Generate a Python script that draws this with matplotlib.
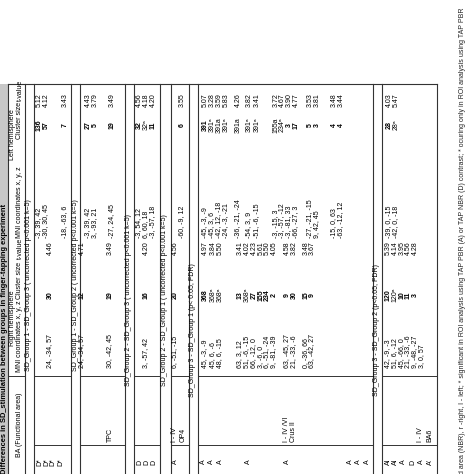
import matplotlib
matplotlib.use("Agg")
import matplotlib.pyplot as plt

plt.rcParams['font.family'] = ['Liberation Sans', 'DejaVu Sans']

# ---------------- data ----------------
title = "Differences in SD_stimulation between groups in finger-tapping experiment"
footnote = ("d area (NBR), r -right, l - left; * significant in ROI analysis using TAP PBR (A) or "
            "TAP NBR (D) contrast; * ocuring only in ROI analysis using TAP PBR")
section_titles = [
    "SD_Group 1 - SD_Group 3 ( uncorrected p<0.001 k=5)",
    "SD_Group 1 - SD_Group 2 ( uncorrected p<0.001 k=5)",
    "SD_Group 2 - SD_Group 3 ( uncorrected p<0.001 k=5)",
    "SD_Group 2 - SD_Group 1 ( uncorrected p<0.001 k=5)",
    "SD_Group 3 - SD_Group 1 (p< 0.05, FDR)",
    "SD_Group 3 - SD_Group 2 (p<0.05, FDR)",
]
ba_signs = ["D*", "D*", "D*", "D*",
            "D", "D", "D",
            "A",
            "A", "A", "A", "A", "A", "A", "A", "A",
            "AI", "AI", "A", "D", "A", "A'"]
func_areas = ["TPC", "I - IV", "OP4", "I - IV /VI", "Crus II", "I - IV", "BA6"]
right_mni = ["24, -34, 57", "24, -34, 57", "30, -42, 45", "3, -57, 42", "6, -51, -15",
             "45, -3, -9", "45, 6, -6", "48, 6, -15", "63, 3, 12", "51, -6, -15", "66, -12, 0",
             "3, -6, 0", "6, -51, -24", "9, -81, -39", "63, -45, 27", "21, -33, -6",
             "0, -36, 66", "63, -42, 27",
             "42, -9, -3", "51, 6, -12", "45, -66, 0", "21, -33, -6", "9, -48, -27", "3, 0, 57"]
right_cluster = ["30", "12", "19", "16", "20",
                 "368", "368ᵃ", "368ᵃ", "13", "368ᵃ", "27", "155", "234", "2", "9", "30", "15", "9",
                 "120", "120ᵃ", "10", "11", "3", ""]
right_t = ["4.46", "4.71", "3.49", "4.20", "4.56",
           "4.97", "3.84", "5.50", "3.41", "4.02", "4.23", "5.61", "5.50", "4.05", "4.58", "3.82",
           "3.48", "3.67",
           "5.39", "4.14", "3.95", "4.56", "4.28", ""]
left_mni = ["-3, 39, 42", "-30, 30, 45", "-18, -63, 6",
            "-3, 39, 42", "3, -93, 21", "-27, 24, 45",
            "-3, 54, 12", "6, 60, 18", "-3, -57, 18",
            "-60, -9, 12",
            "-45, -3, -9", "-45, 3, 6", "-42, 12, -18", "-24, -3, -21", "-36, -21, -24",
            "-54, 3, 9", "-51, -6, -15", "-3, -15, 3", "-3, -57, -12", "-3, -81, 33", "-66, -27, 3",
            "-27, -21, -15", "9, 42, 45", "-15, 0, 63", "-63, -12, 12",
            "-39, 0, -15", "-42, 0, -18"]
left_cluster = ["136", "57", "7", "27", "5", "19", "32", "32ᵃ", "11", "6",
                "391", "391ᵃ", "391a", "391ᵃ", "391a", "391ᵃ", "391ᵃ", "155a", "234ᵃ", "3", "17",
                "5", "3", "4", "4", "28", "28ᵃ"]
left_t = ["5.12", "4.12", "3.43", "4.43", "3.79", "3.49", "4.56", "4.18", "4.20", "3.55",
          "5.07", "3.28", "3.59", "5.83", "4.26", "3.82", "3.41", "3.72", "4.67", "3.90", "4.77",
          "3.53", "3.81", "3.48", "3.44", "4.03", "5.47"]
bold_clusters = {"136", "57", "7", "27", "5", "19", "32", "11", "6", "391", "3", "17", "4", "28",
                 "30", "12", "16", "20", "368", "13", "155", "234", "2", "9", "15", "120", "10"}

# ---------------- layout (pixel positions) ----------------
ba_x = [40, 47, 53, 61, 140, 147, 154, 175, 203, 211, 220, 248, 287, 350, 358, 367,
        388, 395, 403, 413, 421, 430]
fa_x = [110, 175, 183, 287, 294, 421, 430]
rmni_x = [50, 82, 110, 146, 175, 205, 213, 220, 240, 247, 254, 261, 267, 274, 287, 294,
          306, 312, 388, 395, 402, 408, 415, 422]
lmni_x = [39, 46, 65, 88, 95, 112, 139, 146, 153, 182, 205, 212, 219, 226, 238, 249, 257,
          276, 282, 289, 296, 310, 317, 334, 341, 389, 396]
head_x = [29, 76, 129, 165, 193, 377]
head_y = [285, 285, 300, 300, 330, 330]
vlines = [8, 25, 34, 71, 80, 125, 134, 160, 171, 189, 198, 373, 382, 437]

fs = 5.0
fig = plt.figure(figsize=(4.74, 4.74), dpi=100)
ax = fig.add_axes([0, 0, 1, 1])
ax.set_xlim(0, 474)
ax.set_ylim(474, 0)
ax.axis('off')

def t(x, y, s, va='bottom', **kw):
    ax.text(x, y, s, rotation=90, ha='center', va=va, fontsize=kw.pop('size', fs), **kw)

# title band
ax.fill_between([0, 8], 84, 480, color='#c8c8c8', lw=0)
t(4.5, 474, title, size=5.4, weight='bold')
# footnote
t(463, 474, footnote, size=5.0, color='#222222')

# frame lines
for x in vlines:
    ax.plot([x, x], [84, 474], color='#333333', lw=0.8)
ax.plot([8, 437], [84, 84], color='#333333', lw=0.8)
# column separators within data blocks
blocks = [(8, 25), (34, 71), (80, 125), (134, 160), (171, 189), (198, 373), (382, 437)]
for a, b in blocks:
    ax.plot([a, b], [376, 376], color='#333333', lw=0.7)
    if a > 8:
        ax.plot([a, b], [445, 445], color='#333333', lw=0.7)

# column headers
t(20, 425, "BA (Functional area)", va='center')
t(12.5, 318, "Right hemisphere", va='center')
t(20, 372, "MNI coordinates x, y, z", va='bottom')
t(20, 280, "Cluster size", va='center')
t(20, 248, "t-value", va='center')
t(12.5, 135, "Left hemisphere", va='center')
t(20, 238, "MNI coordinates x, y, z", va='bottom')
t(20, 120, "Cluster size", va='center')
t(20, 90, "t-value", va='center')

for x, y, s in zip(head_x, head_y, section_titles):
    t(x, y, s, va='center')
for x, s in zip(ba_x, ba_signs):
    t(x, 462, s, va='center')
for x, s in zip(fa_x, func_areas):
    t(x, 442, s, va='bottom')
for x, m, c, v in zip(rmni_x, right_mni, right_cluster, right_t):
    t(x, 368, m)
    t(x, 295, c, va='center', weight='bold' if c in bold_clusters else 'normal')
    t(x, 248, v, va='center')
for x, m, c, v in zip(lmni_x, left_mni, left_cluster, left_t):
    t(x, 238, m)
    t(x, 125, c, va='center', weight='bold' if c in bold_clusters else 'normal')
    t(x, 100, v, va='center')

fig.savefig("out.png", dpi=100)
